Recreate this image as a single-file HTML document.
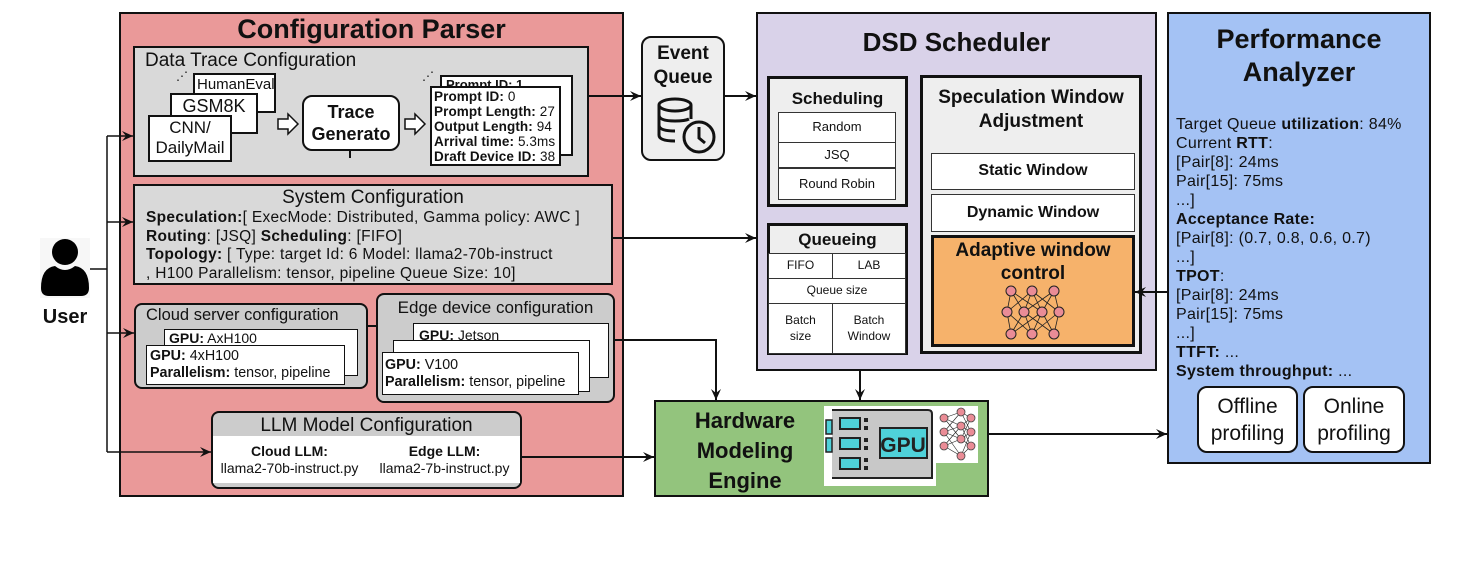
<!DOCTYPE html>
<html><head><meta charset="utf-8"><style>
*{box-sizing:border-box;margin:0;padding:0}
body{width:1472px;height:566px;background:#fff;position:relative;overflow:hidden;font-family:"Liberation Sans",sans-serif;color:#111}
.a{position:absolute}
.bx{position:absolute;border:2px solid #111}
.c{text-align:center}
.b{font-weight:bold}
.t{position:absolute;white-space:nowrap;line-height:1}
.w{background:#fff}
.row{position:absolute;border:1.5px solid #333;background:#fff;font-size:13px;display:flex;align-items:center;justify-content:center;text-align:center;line-height:1.3}
</style></head><body>

<!-- Config Parser -->
<div class="bx" style="left:119px;top:12px;width:505px;height:485px;background:#ea9999"></div>
<div class="t b c" style="left:119px;width:505px;top:16px;font-size:27px">Configuration Parser</div>

<div class="bx" style="left:133px;top:46px;width:456px;height:131px;background:#d9d9d9;border-width:2.5px"></div>
<div class="t" style="left:145px;top:51px;font-size:19px">Data Trace Configuration</div>
<div class="bx w" style="left:193px;top:73px;width:83px;height:40px"></div>
<div class="t" style="left:197px;top:77px;font-size:15px">HumanEval</div>
<div class="bx w" style="left:170px;top:93px;width:88px;height:41px"></div>
<div class="t c" style="left:170px;width:88px;top:97px;font-size:18px">GSM8K</div>
<div class="bx w" style="left:148px;top:115px;width:84px;height:47px"></div>
<div class="t c" style="left:148px;width:84px;top:118px;font-size:17px;line-height:1.15">CNN/<br>DailyMail</div>
<div class="t" style="left:176px;top:70px;font-size:12px">⋰</div>
<div class="bx w" style="left:302px;top:95px;width:98px;height:56px;border-radius:10px"></div>
<div class="t b c" style="left:302px;width:98px;top:102px;font-size:18px;line-height:1.2">Trace<br>Generato</div>
<div class="bx w" style="left:440px;top:75px;width:133px;height:81px"></div>
<div class="t b" style="left:446px;top:78px;font-size:13px">Prompt ID: 1</div>
<div class="t" style="left:422px;top:70px;font-size:12px">⋰</div>
<div class="bx w" style="left:430px;top:86px;width:131px;height:80px"></div>
<div class="t" style="left:434px;top:89px;font-size:13.5px;line-height:15px;letter-spacing:0.1px"><b>Prompt ID:</b> 0<br><b>Prompt Length:</b> 27<br><b>Output Length:</b> 94<br><b>Arrival time:</b> 5.3ms<br><b>Draft Device ID:</b> 38</div>

<div class="bx" style="left:133px;top:184px;width:480px;height:101px;background:#d9d9d9;border-width:2.5px"></div>
<div class="t c" style="left:133px;width:480px;top:188px;font-size:19px">System Configuration</div>
<div class="t" style="left:146px;top:209px;font-size:15.5px;line-height:18.5px;letter-spacing:0.3px"><b>Speculation:</b>[ ExecMode: Distributed, Gamma policy: AWC ]<br><b>Routing</b>: [JSQ] <b>Scheduling</b>: [FIFO]<br><b>Topology:</b> [ Type: target Id: 6 Model: llama2-70b-instruct<br>, H100 Parallelism: tensor, pipeline Queue Size: 10]</div>

<div class="bx" style="left:134px;top:303px;width:234px;height:86px;background:#cccccc;border-radius:8px;border-width:2.5px"></div>
<div class="t" style="left:146px;top:307px;font-size:16.5px">Cloud server configuration</div>
<div class="bx w" style="left:164px;top:329px;width:194px;height:47px;border-width:1.5px"></div>
<div class="t" style="left:169px;top:331px;font-size:14px"><b>GPU:</b> AxH100</div>
<div class="bx w" style="left:146px;top:345px;width:199px;height:40px;border-width:1.5px"></div>
<div class="t" style="left:150px;top:348px;font-size:14.3px;line-height:17px"><b>GPU:</b> 4xH100<br><b>Parallelism:</b> tensor, pipeline</div>

<div class="bx" style="left:376px;top:293px;width:239px;height:110px;background:#cccccc;border-radius:8px;border-width:2.5px"></div>
<div class="t c" style="left:376px;width:239px;top:299px;font-size:17px">Edge device configuration</div>
<div class="bx w" style="left:413px;top:323px;width:196px;height:55px;border-width:1.5px"></div>
<div class="t" style="left:419px;top:328px;font-size:14px"><b>GPU:</b> Jetson</div>
<div class="bx w" style="left:393px;top:340px;width:197px;height:52px;border-width:1.5px"></div>
<div class="bx w" style="left:382px;top:352px;width:197px;height:43px;border-width:1.5px"></div>
<div class="t" style="left:385px;top:357px;font-size:14.3px;line-height:17px"><b>GPU:</b> V100<br><b>Parallelism:</b> tensor, pipeline</div>

<div class="bx" style="left:211px;top:411px;width:311px;height:78px;background:#cccccc;border-radius:8px;border-width:2.5px"></div>
<div class="a w" style="left:213px;top:436px;width:307px;height:47px"></div>
<div class="t c" style="left:211px;width:311px;top:416px;font-size:19px">LLM Model Configuration</div>
<div class="t c" style="left:212px;width:155px;top:443px;font-size:14px;line-height:17px"><b>Cloud LLM:</b><br>llama2-70b-instruct.py</div>
<div class="t c" style="left:367px;width:155px;top:443px;font-size:14px;line-height:17px"><b>Edge LLM:</b><br>llama2-7b-instruct.py</div>

<!-- User -->
<div class="a" style="left:40px;top:238px;width:50px;height:60px;background:#f7f7f7"></div>
<svg class="a" style="left:40px;top:238px" width="50" height="60"><circle cx="25" cy="14" r="13" fill="#000"/><path d="M1 50 Q1 30 15 28 Q25 36 35 28 Q49 30 49 50 Q49 58 41 58 L9 58 Q1 58 1 50Z" fill="#000"/></svg>
<div class="t b c" style="left:30px;width:70px;top:307px;font-size:20px">User</div>

<!-- Event Queue -->
<div class="bx" style="left:641px;top:36px;width:84px;height:125px;background:#eeeeee;border-radius:10px;border-width:2.5px"></div>
<div class="t b c" style="left:641px;width:84px;top:42px;font-size:19px;line-height:24px">Event<br>Queue</div>
<svg class="a" style="left:655px;top:95px" width="66" height="62"><g fill="none" stroke="#111" stroke-width="3"><ellipse cx="20" cy="10" rx="16" ry="6"/><path d="M4 10 V40 Q4 46 20 46 M36 10 V24 M4 20 Q4 26 20 26 Q30 26 34 24 M4 30 Q4 36 20 36"/><circle cx="44" cy="42" r="15"/><path d="M44 32 V43 L50 48"/></g></svg>

<!-- DSD -->
<div class="bx" style="left:756px;top:12px;width:401px;height:359px;background:#d9d2e9;border-width:2.5px"></div>
<div class="t b c" style="left:756px;width:401px;top:29px;font-size:26px">DSD Scheduler</div>
<div class="bx" style="left:767px;top:76px;width:141px;height:131px;background:#eee;border-width:3px"></div>
<div class="t b c" style="left:767px;width:141px;top:90px;font-size:17px">Scheduling</div>
<div class="row" style="left:778px;top:112px;width:118px;height:31px">Random</div>
<div class="row" style="left:778px;top:142px;width:118px;height:26px">JSQ</div>
<div class="row" style="left:778px;top:168px;width:118px;height:32px">Round Robin</div>
<div class="bx" style="left:767px;top:223px;width:141px;height:132px;background:#eee;border-width:3px"></div>
<div class="t b c" style="left:767px;width:141px;top:231px;font-size:17px">Queueing</div>
<div class="row" style="left:768px;top:253px;width:65px;height:26px;font-size:12px">FIFO</div>
<div class="row" style="left:832px;top:253px;width:74px;height:26px;font-size:12px">LAB</div>
<div class="row" style="left:768px;top:278px;width:138px;height:26px;font-size:12px">Queue size</div>
<div class="row" style="left:768px;top:303px;width:65px;height:51px;font-size:12px">Batch<br>size</div>
<div class="row" style="left:832px;top:303px;width:74px;height:51px;font-size:12px">Batch<br>Window</div>
<div class="bx" style="left:920px;top:75px;width:222px;height:279px;background:#eee;border-width:3px"></div>
<div class="t b c" style="left:920px;width:222px;top:86px;font-size:19px;line-height:24px">Speculation Window<br>Adjustment</div>
<div class="row b" style="left:931px;top:153px;width:204px;height:37px;font-size:16px">Static Window</div>
<div class="row b" style="left:931px;top:194px;width:204px;height:38px;font-size:16px">Dynamic Window</div>
<div class="bx" style="left:931px;top:235px;width:204px;height:112px;background:#f6b26b;border-width:3px"></div>
<div class="t b c" style="left:931px;width:204px;top:239px;font-size:19px;line-height:23px">Adaptive window<br>control</div>
<svg class="a" style="left:998px;top:285px" width="70" height="56"><g fill="none" stroke="#222" stroke-width="0.8"><path d="M13 6 L9 27 M13 6 L26 27 M13 6 L44 27 M34 6 L9 27 M34 6 L26 27 M34 6 L44 27 M34 6 L61 27 M56 6 L26 27 M56 6 L44 27 M56 6 L61 27 M9 27 L13 49 M9 27 L34 49 M26 27 L13 49 M26 27 L34 49 M26 27 L56 49 M44 27 L13 49 M44 27 L34 49 M44 27 L56 49 M61 27 L34 49 M61 27 L56 49"/></g><g fill="#ea8c96" stroke="#222" stroke-width="1"><circle cx="13" cy="6" r="5"/><circle cx="34" cy="6" r="5"/><circle cx="56" cy="6" r="5"/><circle cx="9" cy="27" r="5"/><circle cx="26" cy="27" r="5"/><circle cx="44" cy="27" r="5"/><circle cx="61" cy="27" r="5"/><circle cx="13" cy="49" r="5"/><circle cx="34" cy="49" r="5"/><circle cx="56" cy="49" r="5"/></g></svg>

<!-- HME -->
<div class="bx" style="left:654px;top:400px;width:335px;height:97px;background:#93c47d;border-width:2.5px"></div>
<div class="t b c" style="left:660px;width:170px;top:406px;font-size:22px;line-height:30px">Hardware<br>Modeling<br>Engine</div>
<svg class="a" style="left:824px;top:406px" width="154" height="80"><rect width="112" height="80" fill="#fff"/><rect x="112" width="42" height="57" fill="#fff"/>
<path d="M8 4 H104 Q108 4 108 8 V72 H8" fill="#c8c8c8" stroke="#222" stroke-width="2"/>
<rect x="2" y="14" width="6" height="14" fill="#4fd1d9" stroke="#222" stroke-width="1.5"/><rect x="2" y="32" width="6" height="14" fill="#4fd1d9" stroke="#222" stroke-width="1.5"/>
<g fill="#4fd1d9" stroke="#222" stroke-width="2"><rect x="16" y="12" width="20" height="11"/><rect x="16" y="32" width="20" height="11"/><rect x="16" y="52" width="20" height="11"/><rect x="56" y="22" width="47" height="30"/></g>
<g fill="#222"><rect x="40" y="12" width="4" height="4"/><rect x="40" y="20" width="4" height="4"/><rect x="40" y="32" width="4" height="4"/><rect x="40" y="40" width="4" height="4"/><rect x="40" y="52" width="4" height="4"/><rect x="40" y="60" width="4" height="4"/></g>
<text x="79" y="46" font-family="Liberation Sans Narrow, Liberation Sans, sans-serif" font-weight="bold" font-size="21" text-anchor="middle" fill="#222">GPU</text>
<g fill="none" stroke="#222" stroke-width="0.6"><path d="M120 12 L137 6 M120 12 L137 20 M120 12 L137 33 M120 26 L137 6 M120 26 L137 20 M120 26 L137 33 M120 26 L137 50 M120 40 L137 20 M120 40 L137 33 M120 40 L137 50 M137 6 L147 12 M137 6 L147 26 M137 20 L147 12 M137 20 L147 26 M137 20 L147 40 M137 33 L147 12 M137 33 L147 26 M137 33 L147 40 M137 50 L147 26 M137 50 L147 40"/></g>
<g fill="#ea8c96" stroke="#444" stroke-width="0.8"><circle cx="120" cy="12" r="4"/><circle cx="120" cy="26" r="4"/><circle cx="120" cy="40" r="4"/><circle cx="137" cy="6" r="4"/><circle cx="137" cy="20" r="4"/><circle cx="137" cy="33" r="4"/><circle cx="137" cy="50" r="4"/><circle cx="147" cy="12" r="4"/><circle cx="147" cy="26" r="4"/><circle cx="147" cy="40" r="4"/></g></svg>

<!-- PA -->
<div class="bx" style="left:1167px;top:12px;width:264px;height:452px;background:#a4c2f4;border-width:2.5px"></div>
<div class="t b c" style="left:1167px;width:264px;top:23px;font-size:27px;line-height:33px">Performance<br>Analyzer</div>
<div class="t" style="left:1176px;top:115px;font-size:16px;line-height:19px;letter-spacing:0.3px">Target Queue <b>utilization</b>: 84%<br>Current <b>RTT</b>:<br>[Pair[8]: 24ms<br>Pair[15]: 75ms<br>...]<br><b>Acceptance Rate:</b><br>[Pair[8]: (0.7, 0.8, 0.6, 0.7)<br>...]<br><b>TPOT</b>:<br>[Pair[8]: 24ms<br>Pair[15]: 75ms<br>...]<br><b>TTFT:</b> ...<br><b>System throughput:</b> ...</div>
<div class="bx w c" style="left:1197px;top:386px;width:101px;height:67px;border-radius:10px;font-size:21px;line-height:27px;padding-top:5px">Offline<br>profiling</div>
<div class="bx w c" style="left:1303px;top:386px;width:102px;height:67px;border-radius:10px;font-size:21px;line-height:27px;padding-top:5px">Online<br>profiling</div>

<!-- connectors -->
<svg class="a" style="left:0;top:0" width="1472" height="566">
<defs><marker id="m" markerWidth="12" markerHeight="10" refX="11" refY="5" orient="auto" markerUnits="userSpaceOnUse"><path d="M0 0 L11 5 L0 10 L4 5Z" fill="#111"/></marker></defs>
<g fill="none" stroke="#111" stroke-width="1.5">
<path d="M90 269 H107 M107 136 V452"/>
<path d="M107 136 H133" marker-end="url(#m)"/>
<path d="M107 222 H133" marker-end="url(#m)"/>
<path d="M107 333 H134" marker-end="url(#m)"/>
<path d="M107 452 H211" marker-end="url(#m)"/>
</g>
<g fill="none" stroke="#111" stroke-width="2">
<path d="M588 96 H641" marker-end="url(#m)"/>
<path d="M724 96 H756" marker-end="url(#m)"/>
<path d="M612 238 H756" marker-end="url(#m)"/>
<path d="M614 340 H716 V400" marker-end="url(#m)"/>
<path d="M860 370 V400" marker-end="url(#m)"/>
<path d="M521 457 H654" marker-end="url(#m)"/>
<path d="M988 434 H1167" marker-end="url(#m)"/>
<path d="M1167 292 H1135" marker-end="url(#m)"/>
<path d="M367 326 H376"/>
<path d="M350 151 V158"/>
</g>
<g fill="#fff" stroke="#111" stroke-width="1.5">
<path d="M278 119 H288 V114 L298 124 L288 134 V129 H278Z"/>
<path d="M405 119 H415 V114 L425 124 L415 134 V129 H405Z"/>
</g>
</svg>
</body></html>
